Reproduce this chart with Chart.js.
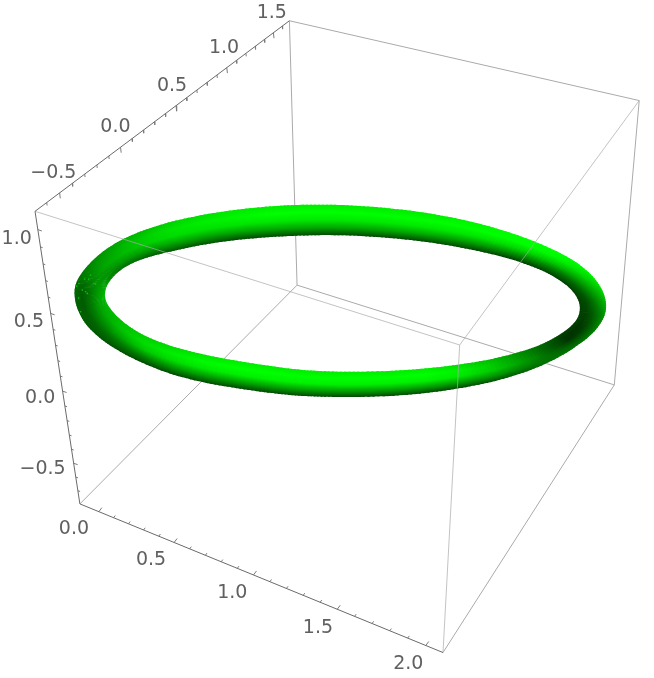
<!DOCTYPE html>
<html>
<head>
<meta charset="utf-8">
<title>Ring</title>
<script src="https://cdn.jsdelivr.net/npm/chart.js@4"></script>
<style>
  html, body { margin: 0; padding: 0; background: #fff; }
  canvas { display: block; }
</style>
</head>
<body>
<canvas id="chart" width="654" height="678"></canvas>
<script>
// ========== DATA ==========

const xTicks = [0, 0.1, 0.2, 0.3, 0.4, 0.5, 0.6, 0.7, 0.8, 0.9, 1, 1.1, 1.2, 1.3, 1.4, 1.5, 1.6, 1.7, 1.8, 1.9, 2];
const yTicks = [-0.6, -0.5, -0.4, -0.3, -0.2, -0.1, 0, 0.1, 0.2, 0.3, 0.4, 0.5, 0.6, 0.7, 0.8, 0.9, 1, 1.1, 1.2, 1.3, 1.4, 1.5, 1.6];
const zTicks = [-0.7, -0.6, -0.5, -0.4, -0.3, -0.2, -0.1, 0, 0.1, 0.2, 0.3, 0.4, 0.5, 0.6, 0.7, 0.8, 0.9, 1];

const xMajor = [0, 0.5, 1, 1.5, 2];
const yMajor = [-0.5, 0, 0.5, 1, 1.5];
const zMajor = [-0.5, 0, 0.5, 1];

// box corners in the flat plane of the view
const cornerA = [34.3, 211];
const cornerB = [289.3, 20];
const cornerC = [640, 100];
const cornerD = [460, 345];
const cornerE = [79.3, 504.3];
const cornerF = [297, 285];
const cornerG = [615, 385];
const cornerH = [443.3, 653.3];

// ring silhouette, clockwise from the left end
const ringOuterX = [73, 74.5, 80, 90, 103, 120, 140, 170, 203, 237, 270, 297, 330, 363, 397, 430, 463, 497, 530, 563, 583, 600, 608, 608, 597, 580, 557, 530, 497, 463, 430, 397, 353, 320, 297, 270, 237, 203, 170, 137, 113, 97, 83, 75];
const ringOuterY = [293, 283, 273.5, 261.5, 250, 239.5, 230.5, 221, 214, 209, 205.7, 204.3, 204, 205.5, 208.5, 212.7, 219, 227.5, 238.5, 253, 265, 281.5, 299, 315, 331.5, 345, 359.5, 371.5, 381.5, 388.3, 393, 396.3, 397.5, 397, 396, 393.3, 388.5, 383, 375, 361.5, 348.5, 337, 323.5, 307];
const ringInnerX = [104, 105.5, 110.5, 118, 127, 138, 153, 178, 208, 240, 272, 298, 330, 361, 393, 425, 457, 488, 517, 546, 562, 574, 582, 581, 573, 562, 542, 520, 489, 458, 427, 395, 353, 320, 296, 270, 238, 206, 175, 147, 126, 114, 107.5, 104.5];
const ringInnerY = [293, 286, 278.5, 271, 265, 260, 255, 249.5, 243, 239, 236.5, 235.2, 234.5, 235.3, 237.8, 241, 246.2, 252.5, 259.8, 271, 280.5, 290, 303, 316, 326, 334, 345.5, 352.5, 360.5, 365, 368.7, 371.3, 372.3, 371.5, 369.8, 366.2, 361.3, 355.6, 348, 338.5, 325.5, 314.5, 306, 300];

// the few bright flecks on the dark left end
const fleckX = [86.7, 85, 78.3, 81.7, 90, 93.3, 95, 80, 84, 76, 88, 78];
const fleckY = [293.3, 291.7, 283.3, 290, 275, 283.3, 284, 311.7, 279, 286, 279, 298];

// ========== STYLE ==========

// green level across the tube at each station, outer edge -> inner edge
const TOP = [230, 255, 225, 145, 50];
const BOT = [50, 140, 235, 255, 230];
const ringShade = [
  [75, 65, 90, 130, 165], [80, 80, 100, 130, 145], [95, 105, 125, 125, 110], [110, 130, 145, 125, 85],
  [130, 145, 160, 130, 80], [150, 170, 175, 135, 75], [170, 195, 195, 135, 65], [195, 220, 210, 140, 60],
  [215, 235, 215, 140, 55], [225, 245, 220, 140, 50], [230, 255, 225, 145, 50],
  TOP, TOP, TOP, TOP, TOP,
  [240, 255, 220, 135, 50], [245, 255, 215, 130, 45], [255, 255, 205, 115, 40], [255, 245, 185, 100, 40],
  [250, 220, 155, 85, 40], [225, 180, 125, 70, 40], [175, 130, 85, 50, 40], [130, 90, 60, 40, 40],
  [105, 70, 40, 30, 40], [90, 60, 30, 30, 45], [90, 85, 75, 70, 75], [70, 110, 135, 125, 115],
  [55, 130, 190, 190, 170], [50, 135, 225, 240, 210],
  BOT, BOT, BOT, BOT, BOT, BOT, BOT,
  [50, 135, 225, 250, 220], [50, 125, 210, 235, 210], [50, 105, 185, 215, 195], [55, 90, 145, 185, 180],
  [60, 80, 120, 160, 170], [65, 70, 105, 145, 165], [70, 65, 95, 135, 165],
];

const GRID_GRAY = "#aaaaaa";
const AXIS_GRAY = "#6a6a6a";
const TICK_GRAY = "#7c7c7c";
const TEXT_GRAY = "#606060";
const LABEL_FONT = "19px 'DejaVu Sans'";
const SHADE_LIFT = 0.75;

// how far along each axis edge a value sits: foreshortened, so not linear
const xAxis = { from: cornerE, to: cornerH, v0: 0, step: 1, a: 0.4013, b: 0.0522, c: -0.0513 };
const yAxis = { from: cornerA, to: cornerB, v0: -0.5, step: 0.5, a: 0.2558, b: 0.0969, c: 0.0488 };
const zAxis = { from: cornerA, to: cornerE, v0: 1, step: -0.5, a: 0.3004, b: 0.0625, c: 0.0397 };

function along(axis, v) {
  const k = (v - axis.v0) / axis.step;
  const t = (axis.a * k + axis.b) / (axis.c * k + 1);
  return [
    axis.from[0] + (axis.to[0] - axis.from[0]) * t,
    axis.from[1] + (axis.to[1] - axis.from[1]) * t,
  ];
}

const GAP = { x: NaN, y: NaN };
const pt = (p) => ({ x: p[0], y: p[1] });

function edges(list) {
  const out = [];
  list.forEach(([p, q]) => out.push(pt(p), pt(q), GAP));
  return out;
}

function tickMarks(axis, ticks, major, dir) {
  const out = [];
  ticks.forEach((v) => {
    const p = along(axis, v);
    const len = major.includes(v) ? 1 : 0.55;
    out.push(pt(p), pt([p[0] + dir[0] * len, p[1] + dir[1] * len]), GAP);
  });
  return out;
}

const backEdges = edges([
  [cornerB, cornerC], [cornerB, cornerF], [cornerE, cornerF],
  [cornerF, cornerG], [cornerC, cornerG], [cornerG, cornerH],
]);
const frontEdges = edges([[cornerA, cornerD], [cornerC, cornerD], [cornerD, cornerH]]);
const axisEdges = edges([[cornerA, cornerB], [cornerA, cornerE], [cornerE, cornerH]]);
const allTicks = [
  ...tickMarks(xAxis, xTicks, xMajor, [3, -4]),
  ...tickMarks(yAxis, yTicks, yMajor, [0.6, 5.5]),
  ...tickMarks(zAxis, zTicks, zMajor, [4, 1.4]),
];

// ========== RING PAINTING ==========

function catmull(p0, p1, p2, p3, t) {
  const t2 = t * t;
  const t3 = t2 * t;
  return 0.5 * (2 * p1 + (p2 - p0) * t + (2 * p0 - 5 * p1 + 4 * p2 - p3) * t2 + (3 * p1 - p0 - 3 * p2 + p3) * t3);
}

// takes the wobble of hand reading out of the outline, for painting only
function relax(points, passes) {
  let pts = points.map((p) => ({ x: p.x, y: p.y }));
  const n = pts.length;
  for (let k = 0; k < passes; k++) {
    pts = pts.map((p, i) => {
      const a = pts[(i - 1 + n) % n];
      const b = pts[(i + 1) % n];
      return { x: (a.x + 6 * p.x + b.x) / 8, y: (a.y + 6 * p.y + b.y) / 8 };
    });
  }
  return pts;
}

function smoothPoint(pts, u) {
  const n = pts.length;
  const i = Math.floor(u);
  const t = u - i;
  const a = pts[(i - 1 + n) % n], b = pts[i % n], c = pts[(i + 1) % n], d = pts[(i + 2) % n];
  return { x: catmull(a.x, b.x, c.x, d.x, t), y: catmull(a.y, b.y, c.y, d.y, t) };
}

function shadeAt(u, k) {
  const n = ringShade.length;
  const i = Math.floor(u);
  const l0 = ringShade[i % n][k];
  const l1 = ringShade[(i + 1) % n][k];
  return Math.round(255 * Math.pow((l0 + (l1 - l0) * (u - i)) / 255, SHADE_LIFT));
}

const ringPainter = {
  id: "ringPainter",
  beforeDatasetDraw(chart, args) {
    if (chart.data.datasets[args.index].label !== "ring outer") return;
    const outer = relax(args.meta.data, 2);
    const inner = relax(chart.getDatasetMeta(args.index + 1).data, 2);
    const ctx = chart.ctx;
    const n = outer.length;
    const SUB = 8;
    const total = n * SUB;
    ctx.save();

    // clip to the silhouette so the strips share one clean edge
    ctx.beginPath();
    [outer, inner].forEach((pts) => {
      for (let s = 0; s <= total; s++) {
        const p = smoothPoint(pts, (s % total) / SUB);
        if (s === 0) ctx.moveTo(p.x, p.y);
        else ctx.lineTo(p.x, p.y);
      }
      ctx.closePath();
    });
    ctx.clip("evenodd");

    for (let s = 0; s < total; s++) {
      const u0 = s / SUB;
      const u1 = ((s + 1.5) / SUB) % n;
      const um = (s + 0.5) / SUB;
      const o0 = smoothPoint(outer, u0), q0 = smoothPoint(inner, u0);
      const o1 = smoothPoint(outer, u1), q1 = smoothPoint(inner, u1);
      const om = smoothPoint(outer, um), qm = smoothPoint(inner, um);
      const grad = ctx.createLinearGradient(om.x, om.y, qm.x, qm.y);
      ringShade[0].forEach((_, k) => {
        grad.addColorStop(k / (ringShade[0].length - 1), `rgb(0,${shadeAt(um, k)},0)`);
      });
      const out = (o, q, t) => ({ x: o.x + (q.x - o.x) * t, y: o.y + (q.y - o.y) * t });
      const p = [out(o0, q0, -0.15), out(o1, q1, -0.15), out(o1, q1, 1.15), out(o0, q0, 1.15)];
      ctx.beginPath();
      ctx.moveTo(p[0].x, p[0].y);
      p.slice(1).forEach((q) => ctx.lineTo(q.x, q.y));
      ctx.closePath();
      ctx.fillStyle = grad;
      ctx.fill();
    }
    ctx.restore();
  },
};

// ========== AXIS LABELS ==========

function lerp(a, b, t) {
  return a + (b - a) * t;
}

function drawAxisLabels(chart, axis, values, startOff, endOff, align) {
  const ctx = chart.ctx;
  const sx = chart.scales.x;
  const sy = chart.scales.y;
  ctx.font = LABEL_FONT;
  ctx.fillStyle = TEXT_GRAY;
  ctx.textAlign = align;
  ctx.textBaseline = "middle";
  values.forEach((v, i) => {
    const p = along(axis, v);
    const t = values.length > 1 ? i / (values.length - 1) : 0;
    const text = (v < 0 ? "\u2212" : "") + Math.abs(v).toFixed(1);
    ctx.fillText(text, sx.getPixelForValue(p[0] + lerp(startOff[0], endOff[0], t)), sy.getPixelForValue(p[1] + lerp(startOff[1], endOff[1], t)));
  });
}

const axisLabels = {
  id: "axisLabels",
  afterDatasetsDraw(chart) {
    chart.ctx.save();
    drawAxisLabels(chart, xAxis, xMajor, [-25, 17.5], [-17.5, 19], "center");
    drawAxisLabels(chart, yAxis, yMajor, [-6.3, -19.8], [-1.6, -19.7], "center");
    drawAxisLabels(chart, zAxis, zMajor, [-8, 5.7], [-6, 9.7], "right");
    chart.ctx.restore();
  },
};

// ========== CHART ==========

function lineSet(label, data, color, order) {
  return {
    label,
    data,
    order,
    borderColor: color,
    borderWidth: 1,
    pointRadius: 0,
    pointHoverRadius: 0,
    showLine: true,
    spanGaps: false,
    fill: false,
  };
}

new Chart(document.getElementById("chart"), {
  type: "scatter",
  data: {
    datasets: [
      lineSet("axes", axisEdges, AXIS_GRAY, 0),
      lineSet("ticks", allTicks, TICK_GRAY, 0),
      lineSet("front edges", frontEdges, "rgba(170,170,170,0.7)", 1),
      {
        label: "flecks",
        data: fleckX.map((x, i) => ({ x, y: fleckY[i] })),
        order: 1,
        pointRadius: 0.8,
        pointHoverRadius: 0.8,
        pointBorderWidth: 0,
        pointBackgroundColor: "#00c800",
        showLine: false,
      },
      lineSet("ring outer", ringOuterX.map((x, i) => ({ x, y: ringOuterY[i] })), "rgba(0,0,0,0)", 2),
      lineSet("ring inner", ringInnerX.map((x, i) => ({ x, y: ringInnerY[i] })), "rgba(0,0,0,0)", 2),
      lineSet("back edges", backEdges, GRID_GRAY, 3),
    ],
  },
  options: {
    responsive: false,
    animation: false,
    layout: { padding: 0 },
    plugins: { legend: { display: false }, tooltip: { enabled: false } },
    scales: {
      x: { type: "linear", display: false, min: 0, max: 654 },
      y: { type: "linear", display: false, min: 0, max: 678, reverse: true },
    },
  },
  plugins: [ringPainter, axisLabels],
});
</script>
</body>
</html>
